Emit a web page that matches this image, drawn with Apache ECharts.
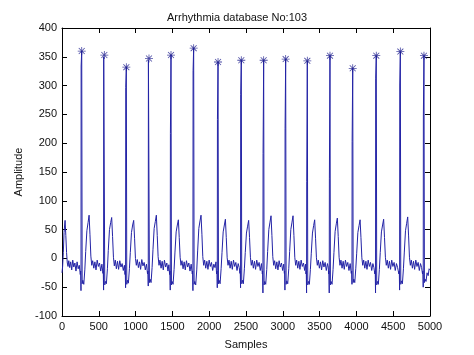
<!DOCTYPE html>
<html>
<head>
<meta charset="utf-8">
<script src="https://cdn.jsdelivr.net/npm/echarts@6/dist/echarts.min.js"></script>
<style>
html,body{margin:0;padding:0;background:#fff;}
#chart{width:474px;height:355px;}
</style>
</head>
<body>
<div id="chart"></div>
<script>
// ---- data ----
var titleText = 'Arrhythmia database No:103';
var xTicks = [0, 500, 1000, 1500, 2000, 2500, 3000, 3500, 4000, 4500, 5000];
var yTicks = [-100, -50, 0, 50, 100, 150, 200, 250, 300, 350, 400];

// detected R-peaks (star markers)
var peakSamples = [268, 575, 874, 1182, 1481, 1789, 2120, 2436, 2740, 3039, 3333, 3641, 3950, 4270, 4597, 4918];
var peakValues  = [360, 353, 332, 347, 353, 365, 341, 344, 344, 346, 343, 352, 330, 352, 359, 352];

// ECG trace: [sample, amplitude]
var ecgTrace = [
 [0,-25],[8,-15],[18,10],[28,45],[36,58],[42,66],[52,40],[62,10],[72,-8],[82,-14],[92,-4],[105,-16],[118,-6],[132,-20],[146,-3],[160,-15],[175,-8],[190,-22],[205,-6],[220,-18],[235,-12],[248,-28],[254,-22],
 [258,-56],[260,334],[268,360],[274,-44],[283,-38],[296,-45],[310,-20],[322,12],[338,48],[354,62],[368,75],[380,42],[392,4],[404,-12],[417,-4],[432,-17],[447,-6],[462,-20],[478,-3],[494,-14],[510,-8],[526,-22],[542,-10],[556,-26],[561,-22],
 [565,-55],[567,350],[575,353],[581,-46],[590,-40],[603,-44],[617,-18],[629,14],[645,50],[661,62],[675,71],[687,38],[699,2],[711,-13],[724,-3],[739,-18],[754,-5],[769,-19],[785,-4],[801,-15],[817,-9],[833,-21],[848,-12],[856,-28],[860,-22],
 [864,-51],[866,297],[874,332],[880,-45],[889,-38],[902,-43],[916,-18],[928,10],[944,45],[960,58],[974,66],[986,35],[998,0],[1010,-12],[1023,-2],[1038,-16],[1053,-6],[1068,-19],[1084,-2],[1100,-13],[1116,-7],[1132,-20],[1148,-10],[1162,-27],[1168,-22],
 [1172,-48],[1174,344],[1182,347],[1188,-42],[1197,-36],[1210,-42],[1224,-16],[1236,15],[1252,52],[1268,64],[1282,75],[1294,40],[1306,3],[1318,-12],[1331,-3],[1346,-17],[1361,-5],[1376,-20],[1392,-3],[1408,-15],[1424,-8],[1440,-22],[1452,-11],[1462,-28],[1467,-22],
 [1471,-55],[1473,217],[1481,353],[1487,-46],[1496,-40],[1509,-45],[1523,-19],[1535,11],[1551,46],[1567,58],[1581,67],[1593,36],[1605,2],[1617,-12],[1630,-4],[1645,-18],[1660,-6],[1675,-20],[1691,-4],[1707,-15],[1723,-8],[1739,-22],[1755,-10],[1770,-27],[1775,-22],
 [1779,-56],[1781,326],[1789,365],[1795,-45],[1804,-40],[1817,-46],[1831,-20],[1843,13],[1859,52],[1875,65],[1889,75],[1901,42],[1913,3],[1925,-12],[1938,-3],[1953,-17],[1968,-5],[1983,-19],[1999,-3],[2015,-14],[2031,-7],[2047,-21],[2063,-10],[2079,-16],[2092,-6],[2100,-27],[2106,-22],
 [2110,-51],[2112,241],[2120,341],[2126,-44],[2135,-38],[2148,-44],[2162,-18],[2174,10],[2190,46],[2206,58],[2220,68],[2232,36],[2244,1],[2256,-12],[2269,-3],[2284,-17],[2299,-5],[2314,-19],[2330,-3],[2346,-14],[2362,-7],[2378,-21],[2394,-9],[2408,-16],[2418,-26],[2422,-22],
 [2426,-51],[2428,285],[2436,344],[2442,-44],[2451,-38],[2464,-44],[2478,-18],[2490,10],[2506,44],[2522,56],[2536,66],[2548,36],[2560,2],[2572,-12],[2585,-3],[2600,-17],[2615,-5],[2630,-19],[2646,-3],[2662,-14],[2678,-7],[2694,-21],[2710,-9],[2722,-27],[2726,-22],
 [2730,-60],[2732,182],[2740,344],[2746,-46],[2755,-40],[2768,-45],[2782,-19],[2794,12],[2810,50],[2826,63],[2840,74],[2852,40],[2864,3],[2876,-12],[2889,-4],[2904,-18],[2919,-6],[2934,-20],[2950,-4],[2966,-15],[2982,-8],[2998,-21],[3012,-10],[3021,-26],[3025,-22],
 [3029,-55],[3031,225],[3039,346],[3045,-45],[3054,-39],[3067,-44],[3081,-18],[3093,12],[3109,50],[3125,63],[3139,74],[3151,40],[3163,2],[3175,-12],[3188,-3],[3203,-17],[3218,-5],[3233,-19],[3249,-3],[3265,-14],[3281,-8],[3297,-21],[3309,-10],[3315,-27],[3319,-22],
 [3323,-60],[3325,133],[3333,343],[3339,-46],[3348,-40],[3361,-45],[3375,-19],[3387,9],[3403,44],[3419,57],[3433,67],[3445,35],[3457,1],[3469,-12],[3482,-3],[3497,-17],[3512,-6],[3527,-20],[3543,-4],[3559,-15],[3575,-7],[3591,-21],[3607,-9],[3617,-15],[3623,-27],[3627,-22],
 [3631,-60],[3633,138],[3641,352],[3647,-46],[3656,-40],[3669,-45],[3683,-19],[3695,10],[3711,47],[3727,60],[3741,70],[3753,38],[3765,2],[3777,-12],[3790,-3],[3805,-17],[3820,-5],[3835,-19],[3851,-3],[3867,-14],[3883,-7],[3899,-21],[3915,-9],[3930,-26],[3936,-22],
 [3940,-45],[3942,203],[3950,330],[3956,-42],[3965,-36],[3978,-42],[3992,-17],[4004,9],[4020,45],[4036,57],[4050,67],[4062,36],[4074,1],[4086,-12],[4099,-3],[4114,-17],[4129,-5],[4144,-19],[4160,-3],[4176,-14],[4192,-7],[4208,-21],[4224,-9],[4238,-16],[4250,-27],[4256,-22],
 [4260,-60],[4262,313],[4270,352],[4276,-46],[4285,-40],[4298,-45],[4312,-19],[4324,10],[4340,46],[4356,58],[4370,68],[4382,36],[4394,2],[4406,-12],[4419,-3],[4434,-17],[4449,-5],[4464,-19],[4480,-3],[4496,-14],[4512,-7],[4528,-21],[4544,-9],[4560,-16],[4577,-27],[4583,-22],
 [4587,-55],[4589,301],[4597,359],[4603,-45],[4612,-39],[4625,-44],[4639,-18],[4651,11],[4667,48],[4683,61],[4697,72],[4709,39],[4721,2],[4733,-12],[4746,-3],[4761,-17],[4776,-5],[4791,-19],[4807,-3],[4823,-14],[4839,-7],[4855,-21],[4871,-9],[4886,-16],[4898,-27],[4904,-22],
 [4908,-50],[4910,249],[4918,352],[4924,-42],[4933,-36],[4946,-40],[4960,-25],[4975,-30],[4988,-18],[5000,-20]
];

// ---- chart ----
var peaks = peakSamples.map(function (s, i) { return [s, peakValues[i]]; });
var starPath = 'path://M7.2,0L8.8,0L8.8,16L7.2,16Z M0,7.2L16,7.2L16,8.8L0,8.8Z M1.5,2.6L2.6,1.5L14.5,13.4L13.4,14.5Z M13.4,1.5L14.5,2.6L2.6,14.5L1.5,13.4Z';
var font = "'Liberation Sans', Arial, sans-serif";
var xMin = xTicks[0], xMax = xTicks[xTicks.length - 1], xStep = xTicks[1] - xTicks[0];
var yMin = yTicks[0], yMax = yTicks[yTicks.length - 1], yStep = yTicks[1] - yTicks[0];
var plain = function (v) { return String(v); };

var axisLine = { show: true, onZero: false, lineStyle: { color: '#000', width: 1 } };
var tickIn = { show: true, inside: true, length: 5, lineStyle: { color: '#000', width: 1 } };

var chart = echarts.init(document.getElementById('chart'), null, { renderer: 'canvas' });
chart.setOption({
  animation: false,
  backgroundColor: '#fff',
  title: {
    text: titleText, left: 'center', top: 7,
    textStyle: { fontFamily: font, fontSize: 11, fontWeight: 'normal', color: '#111' }
  },
  grid: { left: 62, right: 44, top: 28, bottom: 39, containLabel: false },
  xAxis: [{
    type: 'value', min: xMin, max: xMax, interval: xStep, position: 'bottom',
    name: 'Samples', nameLocation: 'middle', nameGap: 23,
    nameTextStyle: { fontFamily: font, fontSize: 11, color: '#111' },
    axisLine: axisLine, axisTick: tickIn, splitLine: { show: false },
    axisLabel: { fontFamily: font, fontSize: 11, color: '#111', margin: 5, formatter: plain }
  }, {
    type: 'value', min: xMin, max: xMax, interval: xStep, position: 'top',
    axisLine: axisLine, axisTick: tickIn, splitLine: { show: false },
    axisLabel: { show: false }
  }],
  yAxis: [{
    type: 'value', min: yMin, max: yMax, interval: yStep, position: 'left',
    name: 'Amplitude', nameLocation: 'middle', nameGap: 38, nameRotate: 90,
    nameTextStyle: { fontFamily: font, fontSize: 11, color: '#111' },
    axisLine: axisLine, axisTick: tickIn, splitLine: { show: false },
    axisLabel: { fontFamily: font, fontSize: 11, color: '#111', margin: 5, formatter: plain }
  }, {
    type: 'value', min: yMin, max: yMax, interval: yStep, position: 'right',
    axisLine: axisLine, axisTick: tickIn, splitLine: { show: false },
    axisLabel: { show: false }
  }],
  series: [{
    type: 'line', data: ecgTrace, xAxisIndex: 0, yAxisIndex: 0,
    showSymbol: false, symbol: 'none',
    lineStyle: { color: '#2323a6', width: 1 },
    z: 2
  }, {
    type: 'scatter', data: peaks, xAxisIndex: 0, yAxisIndex: 0,
    symbol: starPath, symbolSize: 8, symbolKeepAspect: true,
    itemStyle: { color: '#1c1c8c' },
    z: 3
  }]
});
</script>
</body>
</html>
